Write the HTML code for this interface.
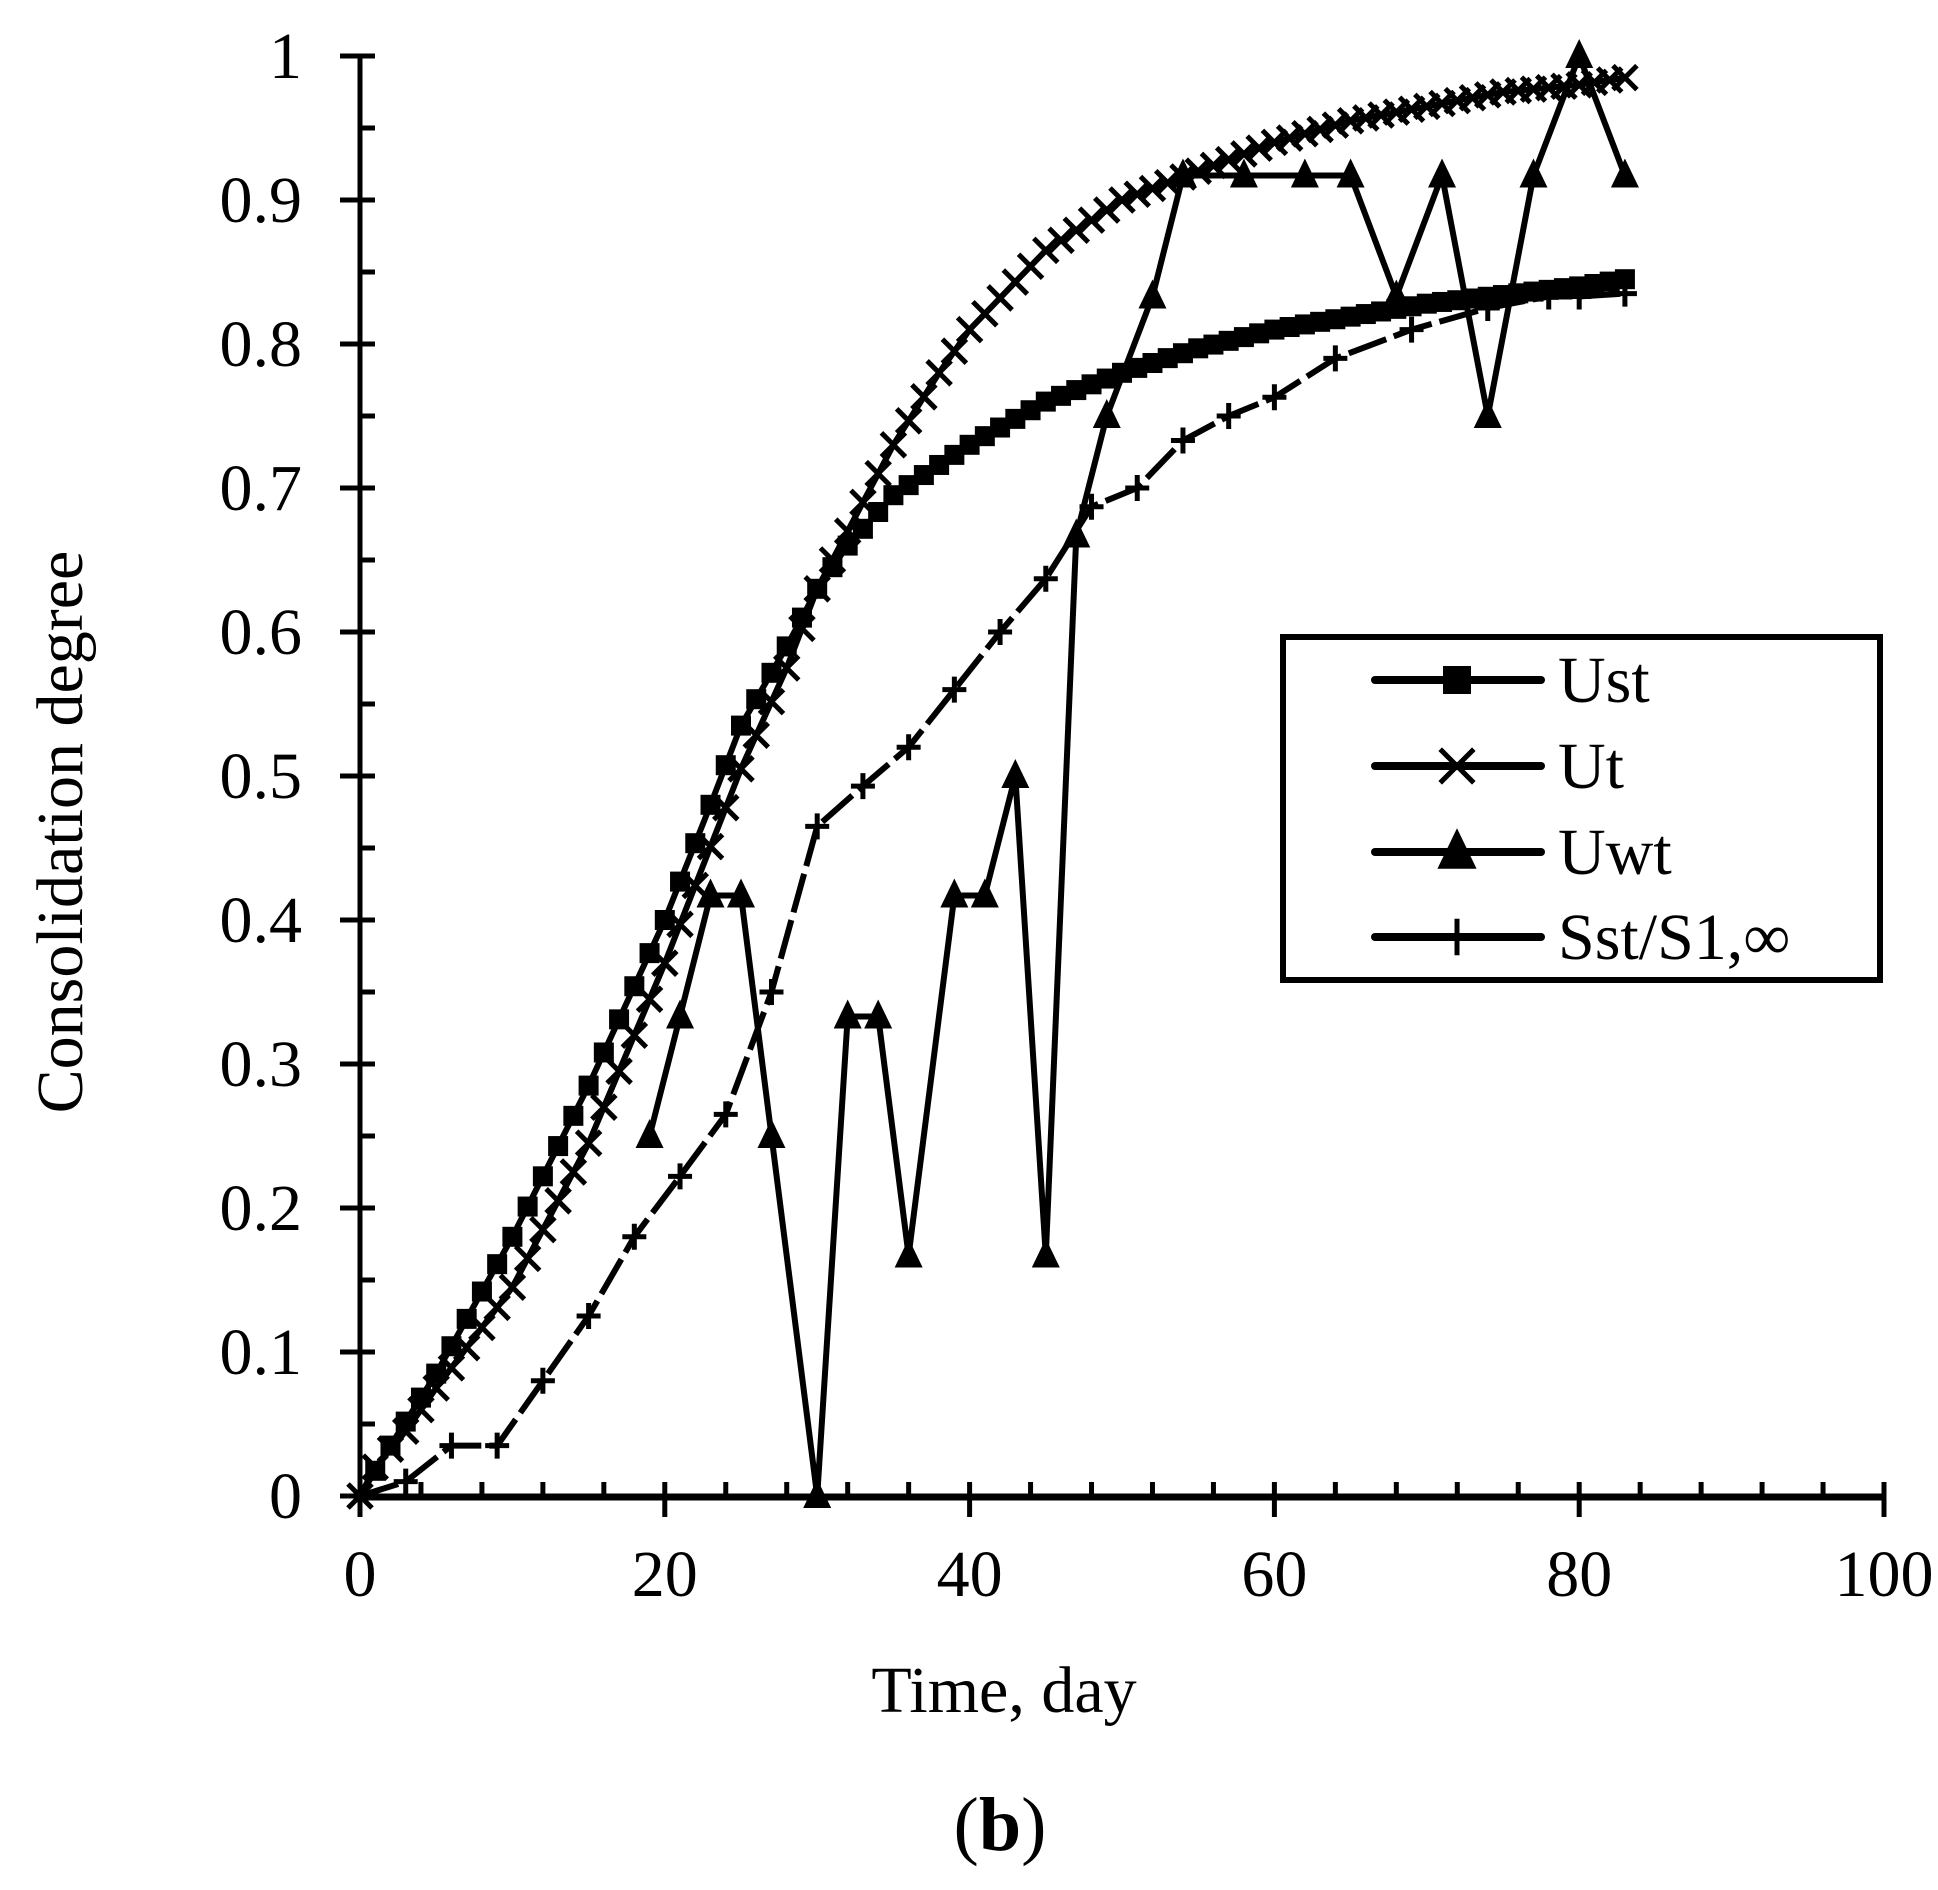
<!DOCTYPE html>
<html><head><meta charset="utf-8"><style>
html,body{margin:0;padding:0;background:#fff;}
svg{display:block;font-family:"Liberation Serif",serif;}
</style></head><body>
<svg id="s" width="1938" height="1890" viewBox="0 0 1938 1890" xmlns="http://www.w3.org/2000/svg">
<g id="ax" stroke="#000" stroke-width="5" fill="none"></g>
<g id="data"></g>
<g font-size="66" fill="#000" id="lbl"></g>
<text x="1004" y="1712" font-size="66" text-anchor="middle">Time, day</text>
<text x="1000" y="1850" font-size="76" text-anchor="middle">(<tspan font-weight="bold">b</tspan>)</text>
<text transform="translate(82,832) rotate(-90)" font-size="66" text-anchor="middle">Consolidation degree</text>
<rect x="1283" y="637" width="597" height="343" fill="#fff" stroke="#000" stroke-width="6"/>
<g id="leg"></g>
</svg>
<script>
var X=function(t){return 360+t*15.24;},Y=function(u){return 1496-u*1440;};
var ns="http://www.w3.org/2000/svg";
function el(p,n,a){var e=document.createElementNS(ns,n);for(var k in a)e.setAttribute(k,a[k]);p.appendChild(e);return e;}
var ax=document.getElementById('ax'),lbl=document.getElementById('lbl'),data=document.getElementById('data'),leg=document.getElementById('leg');
el(ax,'line',{x1:360,y1:55,x2:360,y2:1497});
el(ax,'line',{x1:360,y1:1497,x2:1884,y2:1497,'stroke-width':7});
for(var i=0;i<=20;i++){var y=Y(i*0.05);if(i%2==0){el(ax,'line',{x1:340,y1:y,x2:375,y2:y});var t=el(lbl,'text',{x:302,y:y+22,'text-anchor':'end'});t.textContent=i==0?'0':(i==20?'1':(i/20).toString());}else el(ax,'line',{x1:360,y1:y,x2:375,y2:y});}
for(var i=0;i<=25;i++){var x=X(i*4);if(i%5==0){el(ax,'line',{x1:x,y1:1482,x2:x,y2:1517});var t=el(lbl,'text',{x:x,y:1596,'text-anchor':'middle'});t.textContent=(i*4).toString();}else el(ax,'line',{x1:x,y1:1482,x2:x,y2:1497});}
function interp(k,t){for(var i=0;i<k.length-1;i++){if(t<=k[i+1][0]){var a=k[i],b=k[i+1];return a[1]+(b[1]-a[1])*(t-a[0])/(b[0]-a[0]);}}return k[k.length-1][1];}
var ustK=[[0,0],[2,0.035],[5,0.085],[10,0.18],[15,0.285],[20,0.4],[23,0.48],[25,0.535],[28,0.59],[30,0.63],[32,0.66],[35,0.695],[40,0.73],[45,0.76],[50,0.78],[55,0.797],[60,0.81],[70,0.828],[80,0.84],[83,0.845]];
var utK=[[0,0],[1,0.02],[3,0.045],[5,0.075],[10,0.145],[15,0.245],[20,0.37],[25,0.505],[28,0.575],[30,0.63],[33,0.69],[35,0.73],[38,0.78],[40,0.81],[45,0.865],[50,0.9],[55,0.92],[60,0.94],[65,0.955],[70,0.965],[75,0.975],[80,0.98],[83,0.985]];
var ust=[],ut=[];for(var t=0;t<=83;t++){ust.push([t,interp(ustK,t)]);ut.push([t,interp(utK,t)]);}
var uwt=[[19,0.25],[21,0.333],[23,0.417],[25,0.417],[27,0.25],[30,0],[32,0.333],[34,0.333],[36,0.167],[39,0.417],[41,0.417],[43,0.5],[45,0.167],[47,0.667],[49,0.75],[52,0.833],[54,0.917],[58,0.917],[62,0.917],[65,0.917],[68,0.833],[71,0.917],[74,0.75],[77,0.917],[80,1.0],[83,0.917]];
var sst=[[0,0],[3,0.01],[6,0.035],[9,0.035],[12,0.08],[15,0.125],[18,0.18],[21,0.222],[24,0.265],[27,0.35],[30,0.465],[33,0.493],[36,0.52],[39,0.56],[42,0.6],[45,0.637],[48,0.687],[51,0.7],[54,0.733],[57,0.75],[60,0.763],[64,0.79],[69,0.81],[74,0.825],[78,0.833],[80,0.833],[83,0.835]];
function line(pts,dash){var d=pts.map(function(p,i){return (i?'L':'M')+X(p[0]).toFixed(1)+','+Y(p[1]).toFixed(1);}).join('');var a={d:d,fill:'none',stroke:'#000','stroke-width':6,'stroke-linejoin':'round'};if(dash)a['stroke-dasharray']=dash;el(data,'path',a);}
function mk(g,type,x,y,s){s=s||1;if(type=='sq')el(g,'rect',{x:x-10*s,y:y-10*s,width:20*s,height:20*s,fill:'#000'});
else if(type=='x'){el(g,'path',{d:'M'+(x-12*s)+','+(y-12*s)+'L'+(x+12*s)+','+(y+12*s)+'M'+(x-12*s)+','+(y+12*s)+'L'+(x+12*s)+','+(y-12*s),stroke:'#000','stroke-width':5});}
else if(type=='tri')el(g,'path',{d:'M'+x+','+(y-17*s)+'L'+(x+14*s)+','+(y+12*s)+'L'+(x-14*s)+','+(y+12*s)+'Z',fill:'#000'});
else el(g,'path',{d:'M'+(x-12*s)+','+y+'L'+(x+12*s)+','+y+'M'+x+','+(y-13*s)+'L'+x+','+(y+13*s),stroke:'#000','stroke-width':5});}
line(ust);line(ut);line(uwt);line(sst,'40,8');
ust.forEach(function(p){if(p[0]>0)mk(data,'sq',X(p[0]),Y(p[1]));});
ut.forEach(function(p){mk(data,'x',X(p[0]),Y(p[1]));});
uwt.forEach(function(p){mk(data,'tri',X(p[0]),Y(p[1]));});
sst.forEach(function(p){mk(data,'plus',X(p[0]),Y(p[1]));});
var rows=[['sq','Ust',680],['x','Ut',766],['tri','Uwt',852],['plus','Sst/S1,\u221E',937]];
rows.forEach(function(r){el(leg,'line',{x1:1375,y1:r[2],x2:1541,y2:r[2],stroke:'#000','stroke-width':8,'stroke-linecap':'round'});mk(leg,r[0],1457,r[2],1.4);var t=el(leg,'text',{x:1558,y:r[2]+22,'font-size':66});t.textContent=r[1];});
</script>
</body></html>
